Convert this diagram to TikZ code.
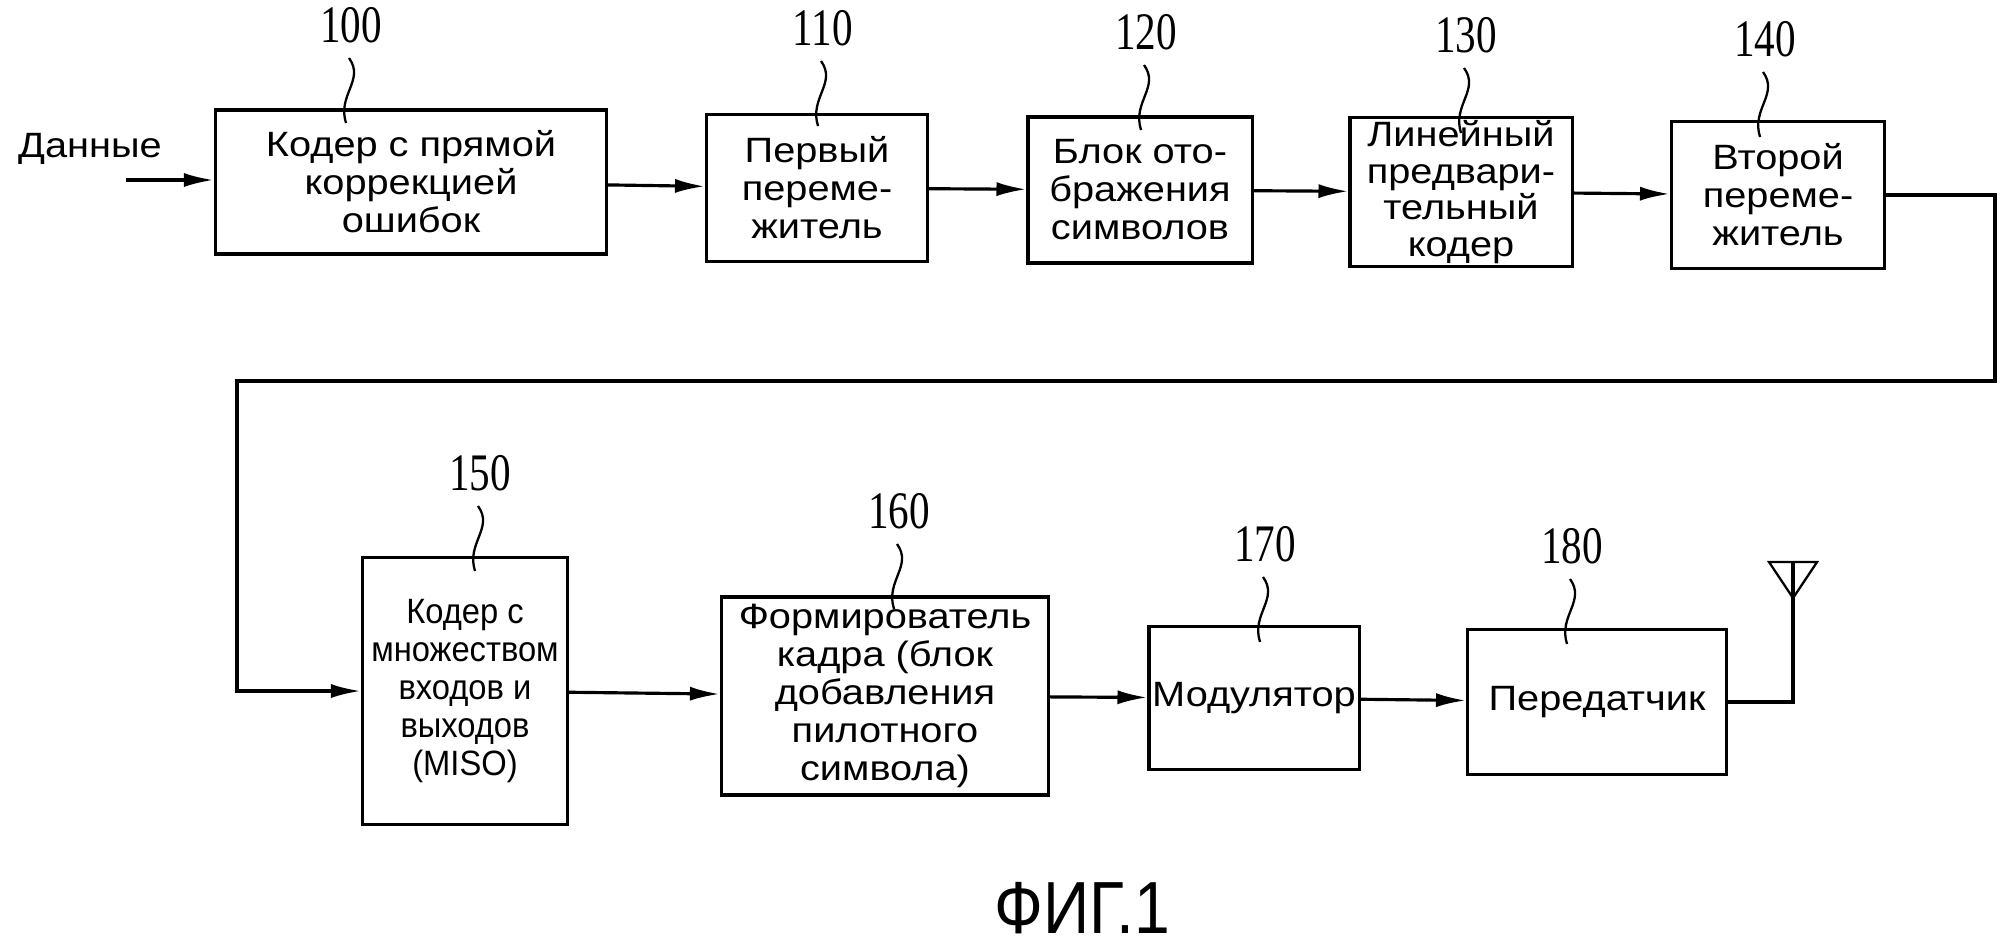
\documentclass[tikz,border=0pt]{standalone}
\usepackage{fontspec}
\setmainfont{Liberation Sans}
\newfontfamily\boxfont{Liberation Sans}[FakeStretch=1.13]
\newfontfamily\slimfont{Liberation Sans}[FakeStretch=0.93]
\newfontfamily\capfont{Liberation Sans}[FakeStretch=0.87]
\newfontfamily\numfont{Liberation Serif}[FakeStretch=0.78]
\usetikzlibrary{calc}
\usetikzlibrary{arrows.meta}

\begin{document}
\begin{tikzpicture}[x=0.01cm, y=-0.01cm,
    block/.style={draw, line width=0.9pt, inner sep=0pt, align=center,
      font=\boxfont\fontsize{10}{10.8}\selectfont},
    num/.style={font=\numfont\fontsize{15}{15}\selectfont, inner sep=0pt},
    flow/.style={line width=0.9pt, -{Latex[length=8.5pt,width=4pt]}},
    lead/.style={line width=0.65pt}]
    \useasboundingbox (0,0) rectangle (2010,945);

    % Leader from a reference number down into its block
    \def\leader#1{\draw[lead] ($(#1)+(-2,33)$) .. controls ($(#1)+(14,55)$) and ($(#1)+(-14,70)$) .. ($(#1)+(-5,98)$);}

    % Draw the upper row of blocks
    \node[block, minimum width=3.91cm, minimum height=1.44cm] (n100) at (411,182) {Кодер с прямой\\коррекцией\\ошибок};
    \node[block, minimum width=2.21cm, minimum height=1.47cm] (n110) at (817,188) {Первый\\переме-\\житель};
    \node[block, minimum width=2.24cm, minimum height=1.46cm] (n120) at (1140,190) {Блок ото-\\бражения\\символов};
    \node[block, font=\boxfont\fontsize{10}{10.4}\selectfont, minimum width=2.22cm, minimum height=1.49cm] (n130) at (1461,192) {Линейный\\предвари-\\тельный\\кодер};
    \node[block, minimum width=2.13cm, minimum height=1.47cm] (n140) at (1778,195) {Второй\\переме-\\житель};

    % Draw the lower row of blocks
    \node[block, font=\slimfont\fontsize{10}{10.8}\selectfont, minimum width=2.05cm, minimum height=2.67cm] (n150) at (465,691) {Кодер с\\множеством\\входов и\\выходов\\(MISO)};
    \node[block, minimum width=3.27cm, minimum height=1.98cm] (n160) at (885,696) {Формирователь\\кадра (блок\\добавления\\пилотного\\символа)};
    \node[block, minimum width=2.10cm, minimum height=1.43cm] (n170) at (1254,698) {Модулятор};
    \node[block, minimum width=2.59cm, minimum height=1.45cm] (n180) at (1597,702) {Передатчик};

    % Reference numbers
    \node[num] (l100) at (351,25) {100};
    \node[num] (l110) at (823,28) {110};
    \node[num] (l120) at (1146,32) {120};
    \node[num] (l130) at (1466,35) {130};
    \node[num] (l140) at (1765,39) {140};
    \node[num] (l150) at (480,473) {150};
    \node[num] (l160) at (899,511) {160};
    \node[num] (l170) at (1265,544) {170};
    \node[num] (l180) at (1572,546) {180};

    \leader{l100} \leader{l110} \leader{l120} \leader{l130} \leader{l140}
    \leader{l150} \leader{l160} \leader{l170} \leader{l180}

    % Data input
    \node[font=\boxfont\fontsize{10}{10.8}\selectfont, anchor=base] (data) at (90,157) {Данные};
    \coordinate (in) at (126,180);
    \draw[flow] (in) -- (in -| n100.west);

    % Draw the signal chain
    \draw[flow] (n100) -- (n110);
    \draw[flow] (n110) -- (n120);
    \draw[flow] (n120) -- (n130);
    \draw[flow] (n130) -- (n140);

    \coordinate (fb1) at (1995,381);
    \coordinate (fb2) at (237,381);
    \draw[flow] (n140) -| (fb1) -- (fb2) |- (n150);

    \draw[flow] (n150) -- (n160);
    \draw[flow] (n160) -- (n170);
    \draw[flow] (n170) -- (n180);

    % Draw the antenna
    \coordinate (ant) at (1793,598);
    \coordinate (mast) at (1793,562);
    \draw[line width=0.9pt] (n180) -| (ant) -- (mast);
    \draw[lead] ($(mast)+(-24,0)$) -- ($(mast)+(24,0)$) -- (ant) -- cycle;

    % Caption
    \node[font=\capfont\fontsize{21}{21}\selectfont, inner sep=0pt] (fig) at (1082,908) {ФИГ.1};
\end{tikzpicture}
\end{document}
